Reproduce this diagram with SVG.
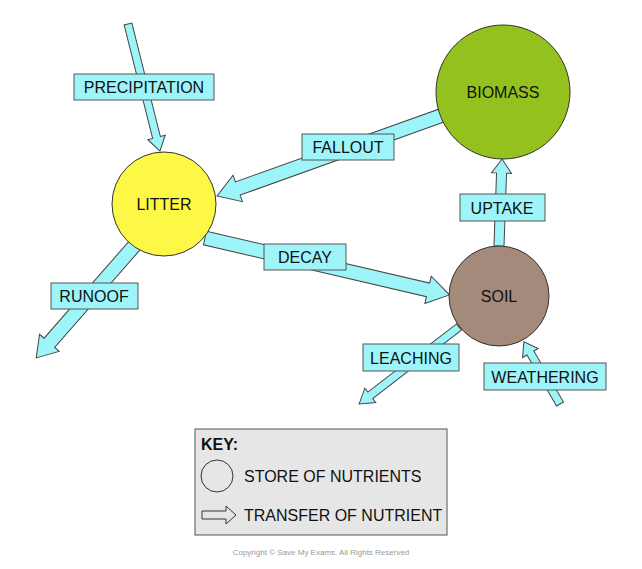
<svg xmlns="http://www.w3.org/2000/svg" width="642" height="569" viewBox="0 0 642 569">
<style>
.ar{fill:#9ef5f9;stroke:#444;stroke-width:1}
.lb{fill:#9ef5f9;stroke:#555;stroke-width:1}
text{font-family:"Liberation Sans",Arial,sans-serif;fill:#111}
.t{font-size:16px;text-anchor:middle}
.k{font-size:16px}
</style>
<rect width="642" height="569" fill="#fff"/>
<g id="connectors">
<polygon class="ar" transform="translate(128,24) rotate(75.9)" points="0,-4 117,-4 117,-9 131,0 117,9 117,4 0,4"/>
<polygon class="ar" transform="translate(443,115) rotate(160.3)" points="0,-7 218,-7 218,-14 240,0 218,14 218,7 0,7"/>
<polygon class="ar" transform="translate(205,238) rotate(13.1)" points="0,-7 229,-7 229,-14 251,0 229,14 229,7 0,7"/>
<polygon class="ar" transform="translate(135,245) rotate(131.2)" points="0,-7 130,-7 130,-13 150,0 130,13 130,7 0,7"/>
<polygon class="ar" transform="translate(499,246) rotate(-88)" points="0,-5 73,-5 73,-10 87,0 73,10 73,5 0,5"/>
<polygon class="ar" transform="translate(459,327) rotate(142.4)" points="0,-4 112,-4 112,-9 126,0 112,9 112,4 0,4"/>
<polygon class="ar" transform="translate(560,404) rotate(239.9)" points="0,-4 59,-4 59,-9 72,0 59,9 59,4 0,4"/>
</g>
<g id="litter"><circle cx="164" cy="204" r="52" fill="#fdf745" stroke="#333"/><text class="t" x="164" y="210">LITTER</text></g>
<g id="biomass"><circle cx="503" cy="92" r="67" fill="#95c11f" stroke="#333"/><text class="t" x="503" y="98">BIOMASS</text></g>
<g id="soil"><circle cx="499" cy="296" r="50" fill="#a38a7a" stroke="#333"/><text class="t" x="499" y="302">SOIL</text></g>
<g id="lbl-precipitation"><rect class="lb" x="74" y="74" width="140" height="26"/><text class="t" x="144" y="93">PRECIPITATION</text></g>
<g id="lbl-fallout"><rect class="lb" x="302" y="134" width="92" height="26"/><text class="t" x="348" y="153">FALLOUT</text></g>
<g id="lbl-decay"><rect class="lb" x="264" y="244" width="82" height="26"/><text class="t" x="305" y="263">DECAY</text></g>
<g id="lbl-runoff"><rect class="lb" x="51" y="283" width="87" height="26"/><text class="t" x="94" y="302">RUNOOF</text></g>
<g id="lbl-uptake"><rect class="lb" x="460" y="194" width="85" height="27"/><text class="t" x="502" y="214">UPTAKE</text></g>
<g id="lbl-leaching"><rect class="lb" x="363" y="344" width="96" height="27"/><text class="t" x="411" y="364">LEACHING</text></g>
<g id="lbl-weathering"><rect class="lb" x="484" y="363" width="122" height="27"/><text class="t" x="545" y="383">WEATHERING</text></g>
<g id="key">
<rect x="195" y="429" width="252" height="106" fill="#e6e6e6" stroke="#555"/>
<text class="k" x="201" y="450" font-weight="bold">KEY:</text>
<circle cx="217" cy="476" r="16" fill="none" stroke="#333"/>
<text class="k" x="244" y="482">STORE OF NUTRIENTS</text>
<polygon transform="translate(202,515)" points="0,-4 24,-4 24,-9 34,0 24,9 24,4 0,4" fill="none" stroke="#333"/>
<text class="k" x="244" y="521">TRANSFER OF NUTRIENT</text>
</g>
<text x="321" y="555" font-size="8" text-anchor="middle" style="fill:#999">Copyright © Save My Exams. All Rights Reserved</text>
</svg>
